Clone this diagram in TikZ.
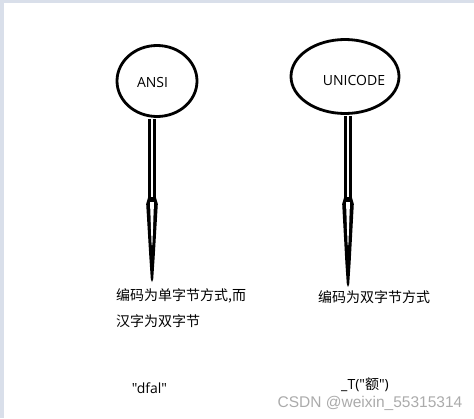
\documentclass[tikz,border=0pt]{standalone}
\usepackage{fontspec}
\setmainfont{Open Sans}[Ligatures=TeXOff]
\newfontfamily\cjk{Noto Sans CJK SC}
\newfontfamily\wmfont{Liberation Sans}
\definecolor{frame}{HTML}{D9DFEA}
\definecolor{wmgrey}{HTML}{ABABAB}
\tikzset{
  bubble/.style={draw=black, line width=2.8pt, ellipse, inner sep=0pt},
  lbl/.style={font=\fontsize{14}{17}\selectfont, inner sep=0pt},
  stemline/.style={line width=2.3pt, double=white, double distance=2.8pt},
  pics/dhead/.style={code={
    \fill[black] (-3.8,-#1) -- (-5.8,-#1+7) -- (-2.6,-24) -- (-1.2,-3) -- (0,0)
      -- (1.2,-3) -- (2.6,-24) -- (5.8,-#1+7) -- (3.8,-#1) -- cycle;
    \fill[white] (-2,-#1+5) -- (2,-#1+5) -- (0.4,-#1+48) -- (-0.4,-#1+48) -- cycle;
  }}
}
\usetikzlibrary{shapes.geometric}
\begin{document}
\begin{tikzpicture}[x=1pt,y=-1pt]
\fill[white] (0,0) rectangle (474,418);
\useasboundingbox (0,0) rectangle (474,418);
\fill[frame] (0,0) rectangle (474,2.5);
\fill[frame] (0,0) rectangle (3.5,418);

% ellipses
\node[bubble, minimum width=80pt, minimum height=71pt] (ansi) at (157,81) {};
\node[bubble, minimum width=108pt, minimum height=74pt] (uni) at (345,76.5) {};
\node[lbl] (ansit) at (152.5,82) {ANSI};
\node[lbl] (unit) at (354,80) {UNICODE};

% arrow tips
\coordinate (ansitip) at (152,282);
\coordinate (unitip) at (348,287);

% stems
\draw[stemline] ([yshift=-1pt]ansi.south -| ansitip) -- ([yshift=82pt]ansitip);
\draw[stemline] ([yshift=-1pt]uni.south -| unitip) -- ([yshift=87pt]unitip);
\pic at (ansitip) {dhead=85};
\pic at (unitip) {dhead=90};

% texts
\node[lbl, anchor=west, align=left, font=\cjk\fontsize{14}{26}\selectfont] (ansidesc) at (116,308)
  {编码为单字节方式,而\\汉字为双字节};
\node[lbl, anchor=west, font=\cjk\fontsize{14}{17}\selectfont] (unidesc) at (318,297) {编码为双字节方式};
\node[lbl] (ansiex) at (149.5,388) {"dfal"};
\node[lbl] (uniex) at (365,385) {\_T("{\cjk 额}")};
\node[inner sep=0pt, text=wmgrey, font=\wmfont\fontsize{15.5}{18}\selectfont] (wm) at (370,403) {CSDN @weixin\_55315314};
\end{tikzpicture}
\end{document}
